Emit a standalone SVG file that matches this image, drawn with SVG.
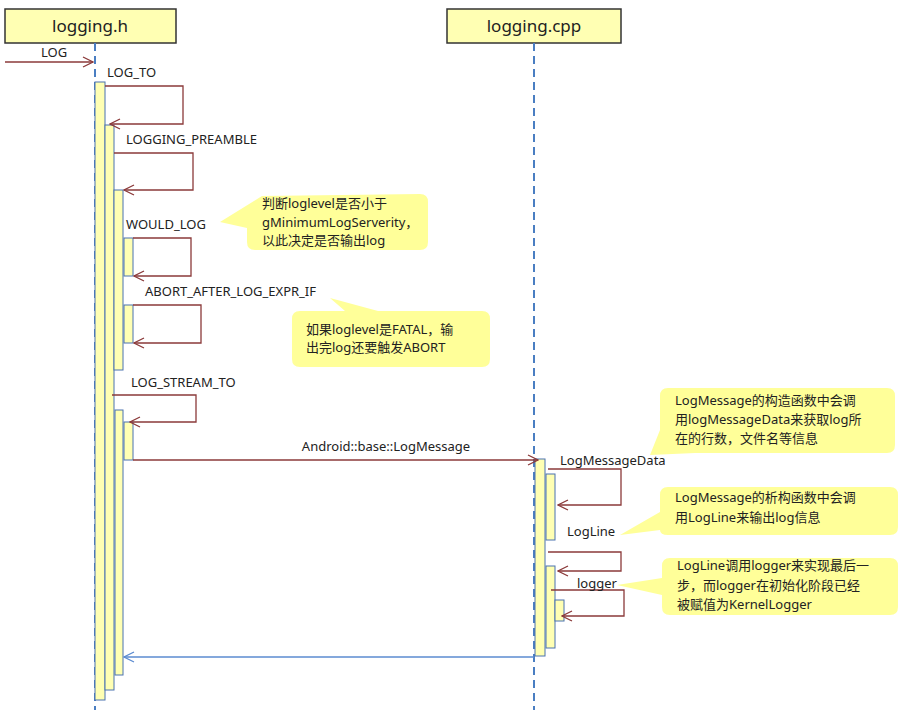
<svg xmlns="http://www.w3.org/2000/svg" width="907" height="720" viewBox="0 0 907 720">
<defs>
<style>
text{font-family:"Noto Sans","Noto Sans CJK SC",sans-serif;font-size:13px;fill:#222}
.hd{font-size:17px}
.box{fill:#ffffb3;stroke:#333;stroke-width:1.5}
.life{stroke:#4a7ec2;stroke-width:2;stroke-dasharray:8,5}
.bar{fill:#ffffb3;stroke:#4a72b0;stroke-width:1}
.m{fill:none;stroke:#8b3a3a;stroke-width:1.3}
.r{fill:none;stroke:#5b8bd0;stroke-width:1.3}
.note{fill:#ffff99;stroke:none}
</style>
<marker id="a" markerWidth="12" markerHeight="12" refX="11" refY="6" orient="auto" markerUnits="userSpaceOnUse"><path d="M1,1 L11,6 L1,11" fill="none" stroke="#8b3a3a" stroke-width="1.3"/></marker>
<marker id="b" markerWidth="12" markerHeight="12" refX="11" refY="6" orient="auto" markerUnits="userSpaceOnUse"><path d="M1,1 L11,6 L1,11" fill="none" stroke="#5b8bd0" stroke-width="1.3"/></marker>
</defs>
<g id="logging_h"><rect class="box" x="5" y="9" width="171" height="34"/><text class="hd" x="90" y="32" text-anchor="middle">logging.h</text><line class="life" x1="95" y1="43" x2="95" y2="710"/></g>
<g id="logging_cpp"><rect class="box" x="447" y="9" width="174" height="34"/><text class="hd" x="534" y="32" text-anchor="middle">logging.cpp</text><line class="life" x1="534" y1="43" x2="534" y2="710"/></g>
<g id="bars">
<rect class="bar" x="95" y="82" width="10" height="618"/>
<rect class="bar" x="105" y="125" width="9" height="565"/>
<rect class="bar" x="114" y="190" width="9" height="180"/>
<rect class="bar" x="124" y="238" width="9" height="38"/>
<rect class="bar" x="124" y="305" width="9" height="38"/>
<rect class="bar" x="115" y="410" width="8" height="265"/>
<rect class="bar" x="124" y="422" width="9" height="38"/>
<rect class="bar" x="535" y="459" width="10" height="197"/>
<rect class="bar" x="546" y="474" width="9" height="66"/>
<rect class="bar" x="546" y="566" width="9" height="82"/>
<rect class="bar" x="555" y="600" width="9" height="21"/>
</g>
<g id="connectors">
<path class="m" d="M5,62 H93" marker-end="url(#a)"/>
<path class="m" d="M105,86 H183 V124 H110" marker-end="url(#a)"/>
<path class="m" d="M114,153 H193 V190 H124" marker-end="url(#a)"/>
<path class="m" d="M133,238 H191 V276 H134" marker-end="url(#a)"/>
<path class="m" d="M133,305 H201 V343 H134" marker-end="url(#a)"/>
<path class="m" d="M112,395 H196 V422 H130" marker-end="url(#a)"/>
<path class="m" d="M133,460 H538" marker-end="url(#a)"/>
<path class="m" d="M548,469 H621 V505 H558" marker-end="url(#a)"/>
<path class="m" d="M548,552 H621 V571 H558" marker-end="url(#a)"/>
<path class="m" d="M551,590 H624 V616 H562" marker-end="url(#a)"/>
<path class="r" d="M534,657 H124" marker-end="url(#b)"/>
</g>
<g id="labels">
<text x="41" y="57">LOG</text>
<text x="107" y="77">LOG_TO</text>
<text x="126" y="144">LOGGING_PREAMBLE</text>
<text x="126" y="229">WOULD_LOG</text>
<text x="145" y="296">ABORT_AFTER_LOG_EXPR_IF</text>
<text x="131" y="387">LOG_STREAM_TO</text>
<text x="386" y="451" text-anchor="middle">Android::base::LogMessage</text>
<text x="560" y="465">LogMessageData</text>
<text x="567" y="536">LogLine</text>
<text x="577" y="588">logger</text>
</g>
<g id="note1"><path class="note" d="M220,222 L262,196 L420,194 Q428,194 428,202 V242 Q428,250 420,250 H255 Q247,250 247,242 V228 Z"/>
<text x="262" y="208">判断loglevel是否小于</text><text x="262" y="227">gMinimumLogServerity，</text><text x="262" y="245">以此决定是否输出log</text></g>
<g id="note2"><path class="note" d="M330,298 L378,311 H482 Q490,311 490,319 V359 Q490,367 482,367 H300 Q292,367 292,359 V319 Q292,311 300,311 H345 Z"/>
<text x="306" y="334">如果loglevel是FATAL，输</text><text x="306" y="352">出完log还要触发ABORT</text></g>
<g id="note3"><path class="note" d="M650,455 L660,430 V396 Q660,388 668,388 H887 Q895,388 895,396 V445 Q895,453 887,453 H695 Z"/>
<text x="675" y="405">LogMessage的构造函数中会调</text><text x="675" y="424">用logMessageData来获取log所</text><text x="675" y="443">在的行数，文件名等信息</text></g>
<g id="note4"><path class="note" d="M620,535 L660,512 V495 Q660,487 668,487 H890 Q898,487 898,495 V527 Q898,535 890,535 H668 Q660,535 660,530 Z"/>
<text x="675" y="502">LogMessage的析构函数中会调</text><text x="675" y="522">用LogLine来输出log信息</text></g>
<g id="note5"><path class="note" d="M617,585 L662,578 V566 Q662,558 670,558 H890 Q898,558 898,566 V607 Q898,615 890,615 H670 Q662,615 662,607 V595 Z"/>
<text x="677" y="570">LogLine调用logger来实现最后一</text><text x="677" y="590">步，而logger在初始化阶段已经</text><text x="677" y="609">被赋值为KernelLogger</text></g>
</svg>
